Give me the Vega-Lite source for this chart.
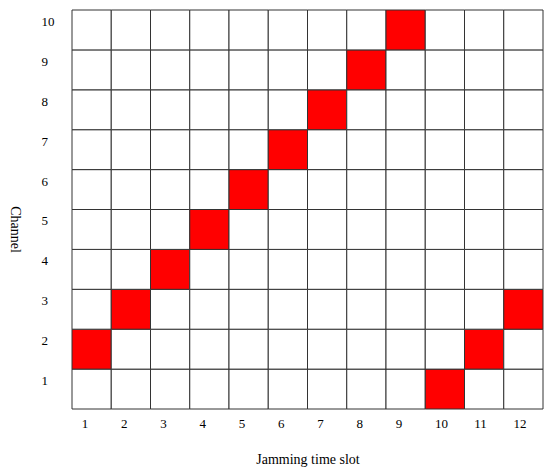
{
  "$schema": "https://vega.github.io/schema/vega-lite/v6.json",
  "width": 471,
  "height": 399,
  "autosize": "none",
  "padding": {"left": 72, "top": 10, "right": 7, "bottom": 66},
  "background": "white",
  "config": {"view": {"stroke": null}, "font": "Liberation Serif"},
  "data": {"values": [
    {"slot":1,"channel":1,"jammed":0},{"slot":1,"channel":2,"jammed":1},{"slot":1,"channel":3,"jammed":0},{"slot":1,"channel":4,"jammed":0},{"slot":1,"channel":5,"jammed":0},{"slot":1,"channel":6,"jammed":0},{"slot":1,"channel":7,"jammed":0},{"slot":1,"channel":8,"jammed":0},{"slot":1,"channel":9,"jammed":0},{"slot":1,"channel":10,"jammed":0},
    {"slot":2,"channel":1,"jammed":0},{"slot":2,"channel":2,"jammed":0},{"slot":2,"channel":3,"jammed":1},{"slot":2,"channel":4,"jammed":0},{"slot":2,"channel":5,"jammed":0},{"slot":2,"channel":6,"jammed":0},{"slot":2,"channel":7,"jammed":0},{"slot":2,"channel":8,"jammed":0},{"slot":2,"channel":9,"jammed":0},{"slot":2,"channel":10,"jammed":0},
    {"slot":3,"channel":1,"jammed":0},{"slot":3,"channel":2,"jammed":0},{"slot":3,"channel":3,"jammed":0},{"slot":3,"channel":4,"jammed":1},{"slot":3,"channel":5,"jammed":0},{"slot":3,"channel":6,"jammed":0},{"slot":3,"channel":7,"jammed":0},{"slot":3,"channel":8,"jammed":0},{"slot":3,"channel":9,"jammed":0},{"slot":3,"channel":10,"jammed":0},
    {"slot":4,"channel":1,"jammed":0},{"slot":4,"channel":2,"jammed":0},{"slot":4,"channel":3,"jammed":0},{"slot":4,"channel":4,"jammed":0},{"slot":4,"channel":5,"jammed":1},{"slot":4,"channel":6,"jammed":0},{"slot":4,"channel":7,"jammed":0},{"slot":4,"channel":8,"jammed":0},{"slot":4,"channel":9,"jammed":0},{"slot":4,"channel":10,"jammed":0},
    {"slot":5,"channel":1,"jammed":0},{"slot":5,"channel":2,"jammed":0},{"slot":5,"channel":3,"jammed":0},{"slot":5,"channel":4,"jammed":0},{"slot":5,"channel":5,"jammed":0},{"slot":5,"channel":6,"jammed":1},{"slot":5,"channel":7,"jammed":0},{"slot":5,"channel":8,"jammed":0},{"slot":5,"channel":9,"jammed":0},{"slot":5,"channel":10,"jammed":0},
    {"slot":6,"channel":1,"jammed":0},{"slot":6,"channel":2,"jammed":0},{"slot":6,"channel":3,"jammed":0},{"slot":6,"channel":4,"jammed":0},{"slot":6,"channel":5,"jammed":0},{"slot":6,"channel":6,"jammed":0},{"slot":6,"channel":7,"jammed":1},{"slot":6,"channel":8,"jammed":0},{"slot":6,"channel":9,"jammed":0},{"slot":6,"channel":10,"jammed":0},
    {"slot":7,"channel":1,"jammed":0},{"slot":7,"channel":2,"jammed":0},{"slot":7,"channel":3,"jammed":0},{"slot":7,"channel":4,"jammed":0},{"slot":7,"channel":5,"jammed":0},{"slot":7,"channel":6,"jammed":0},{"slot":7,"channel":7,"jammed":0},{"slot":7,"channel":8,"jammed":1},{"slot":7,"channel":9,"jammed":0},{"slot":7,"channel":10,"jammed":0},
    {"slot":8,"channel":1,"jammed":0},{"slot":8,"channel":2,"jammed":0},{"slot":8,"channel":3,"jammed":0},{"slot":8,"channel":4,"jammed":0},{"slot":8,"channel":5,"jammed":0},{"slot":8,"channel":6,"jammed":0},{"slot":8,"channel":7,"jammed":0},{"slot":8,"channel":8,"jammed":0},{"slot":8,"channel":9,"jammed":1},{"slot":8,"channel":10,"jammed":0},
    {"slot":9,"channel":1,"jammed":0},{"slot":9,"channel":2,"jammed":0},{"slot":9,"channel":3,"jammed":0},{"slot":9,"channel":4,"jammed":0},{"slot":9,"channel":5,"jammed":0},{"slot":9,"channel":6,"jammed":0},{"slot":9,"channel":7,"jammed":0},{"slot":9,"channel":8,"jammed":0},{"slot":9,"channel":9,"jammed":0},{"slot":9,"channel":10,"jammed":1},
    {"slot":10,"channel":1,"jammed":1},{"slot":10,"channel":2,"jammed":0},{"slot":10,"channel":3,"jammed":0},{"slot":10,"channel":4,"jammed":0},{"slot":10,"channel":5,"jammed":0},{"slot":10,"channel":6,"jammed":0},{"slot":10,"channel":7,"jammed":0},{"slot":10,"channel":8,"jammed":0},{"slot":10,"channel":9,"jammed":0},{"slot":10,"channel":10,"jammed":0},
    {"slot":11,"channel":1,"jammed":0},{"slot":11,"channel":2,"jammed":1},{"slot":11,"channel":3,"jammed":0},{"slot":11,"channel":4,"jammed":0},{"slot":11,"channel":5,"jammed":0},{"slot":11,"channel":6,"jammed":0},{"slot":11,"channel":7,"jammed":0},{"slot":11,"channel":8,"jammed":0},{"slot":11,"channel":9,"jammed":0},{"slot":11,"channel":10,"jammed":0},
    {"slot":12,"channel":1,"jammed":0},{"slot":12,"channel":2,"jammed":0},{"slot":12,"channel":3,"jammed":1},{"slot":12,"channel":4,"jammed":0},{"slot":12,"channel":5,"jammed":0},{"slot":12,"channel":6,"jammed":0},{"slot":12,"channel":7,"jammed":0},{"slot":12,"channel":8,"jammed":0},{"slot":12,"channel":9,"jammed":0},{"slot":12,"channel":10,"jammed":0}
  ]},
  "mark": {"type": "rect", "stroke": "#333333", "strokeWidth": 1},
  "encoding": {
    "x": {
      "field": "slot", "type": "ordinal",
      "scale": {"paddingInner": 0, "paddingOuter": 0},
      "axis": {
        "ticks": false, "domain": false, "labelAngle": 0, "labelAlign": "left",
        "labelOffset": -10, "labelPadding": 8, "labelFontSize": 13, "labelColor": "#000000",
        "title": "Jamming time slot", "titleFontSize": 14, "titleFontWeight": "normal",
        "titleColor": "#000000", "titlePadding": 22
      }
    },
    "y": {
      "field": "channel", "type": "ordinal", "sort": "descending",
      "scale": {"paddingInner": 0, "paddingOuter": 0},
      "axis": {
        "ticks": false, "domain": false, "labelAlign": "left", "labelBaseline": "middle",
        "labelPadding": 31, "labelOffset": -8, "labelFontSize": 13, "labelColor": "#000000",
        "title": "Channel", "titleAngle": 90, "titleFontSize": 14, "titleFontWeight": "normal",
        "titleColor": "#000000", "titleX": -58, "titleY": 219, "titleAlign": "center", "titleBaseline": "middle"
      }
    },
    "fill": {
      "field": "jammed", "type": "nominal",
      "scale": {"domain": [0, 1], "range": ["#ffffff", "#ff0000"]},
      "legend": null
    }
  }
}
